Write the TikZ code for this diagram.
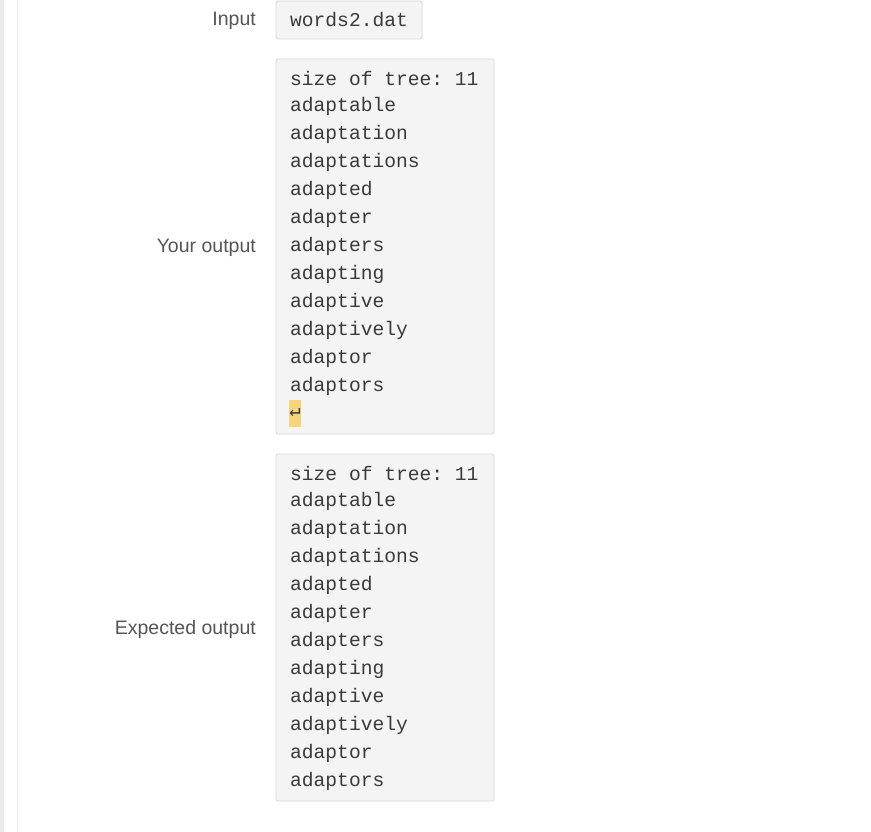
\documentclass[tikz,border=0pt]{standalone}
\usepackage{fontspec}
\setmainfont{Liberation Sans}
\setmonofont{Liberation Mono}
\newfontfamily\symfont{DejaVu Sans Mono}
\definecolor{boxbg}{HTML}{F4F4F4}
\definecolor{boxline}{HTML}{D8D8D8}
\definecolor{lbl}{HTML}{555555}
\definecolor{mono}{HTML}{3A3A3A}
\definecolor{hl}{HTML}{F5D47A}
\definecolor{edge}{HTML}{EBEBEB}
\begin{document}
\begin{tikzpicture}[x=1pt,y=-1pt,
  outbox/.style={draw=boxline,fill=boxbg,rounded corners=2pt,line width=0.8pt},
  label/.style={anchor=east,inner sep=0pt,font=\fontsize{19.5}{21}\selectfont,text=lbl},
  mtext/.style={anchor=west,font=\ttfamily\fontsize{19.6}{22}\selectfont,text=mono,inner sep=0pt}]
\useasboundingbox (0,0) rectangle (871,832);
\fill[white] (0,0) rectangle (871,832);
\fill[edge] (0,0) rectangle (4,832);
\draw[edge,line width=1pt] (17,0) -- (17,832);
% input
\draw[outbox] (276,1) rectangle (422,39);
\node[label] (lin) at (256,21) {Input};
\node[mtext] (tin) at (290,20) {words2.dat};
% your output
\draw[outbox] (276,59) rectangle (494,434);
\node[label] (lyo) at (256,248) {Your output};
\foreach \t [count=\i from 0] in {size of tree: 11,adaptable,adaptation,adaptations,adapted,adapter,adapters,adapting,adaptive,adaptively,adaptor,adaptors}
  \node[mtext] (y\i) at (290,78+28*\i) {\t};
\fill[hl] (289,400) rectangle (301,427);
\node[inner sep=0pt,text=mono,font=\symfont\fontsize{19}{19}\selectfont] (ret) at (295,413) {↵};
% expected output
\draw[outbox] (276,454) rectangle (494,801);
\node[label] (leo) at (256,629) {Expected output};
\foreach \t [count=\i from 0] in {size of tree: 11,adaptable,adaptation,adaptations,adapted,adapter,adapters,adapting,adaptive,adaptively,adaptor,adaptors}
  \node[mtext] (e\i) at (290,473+28*\i) {\t};
\end{tikzpicture}
\end{document}
